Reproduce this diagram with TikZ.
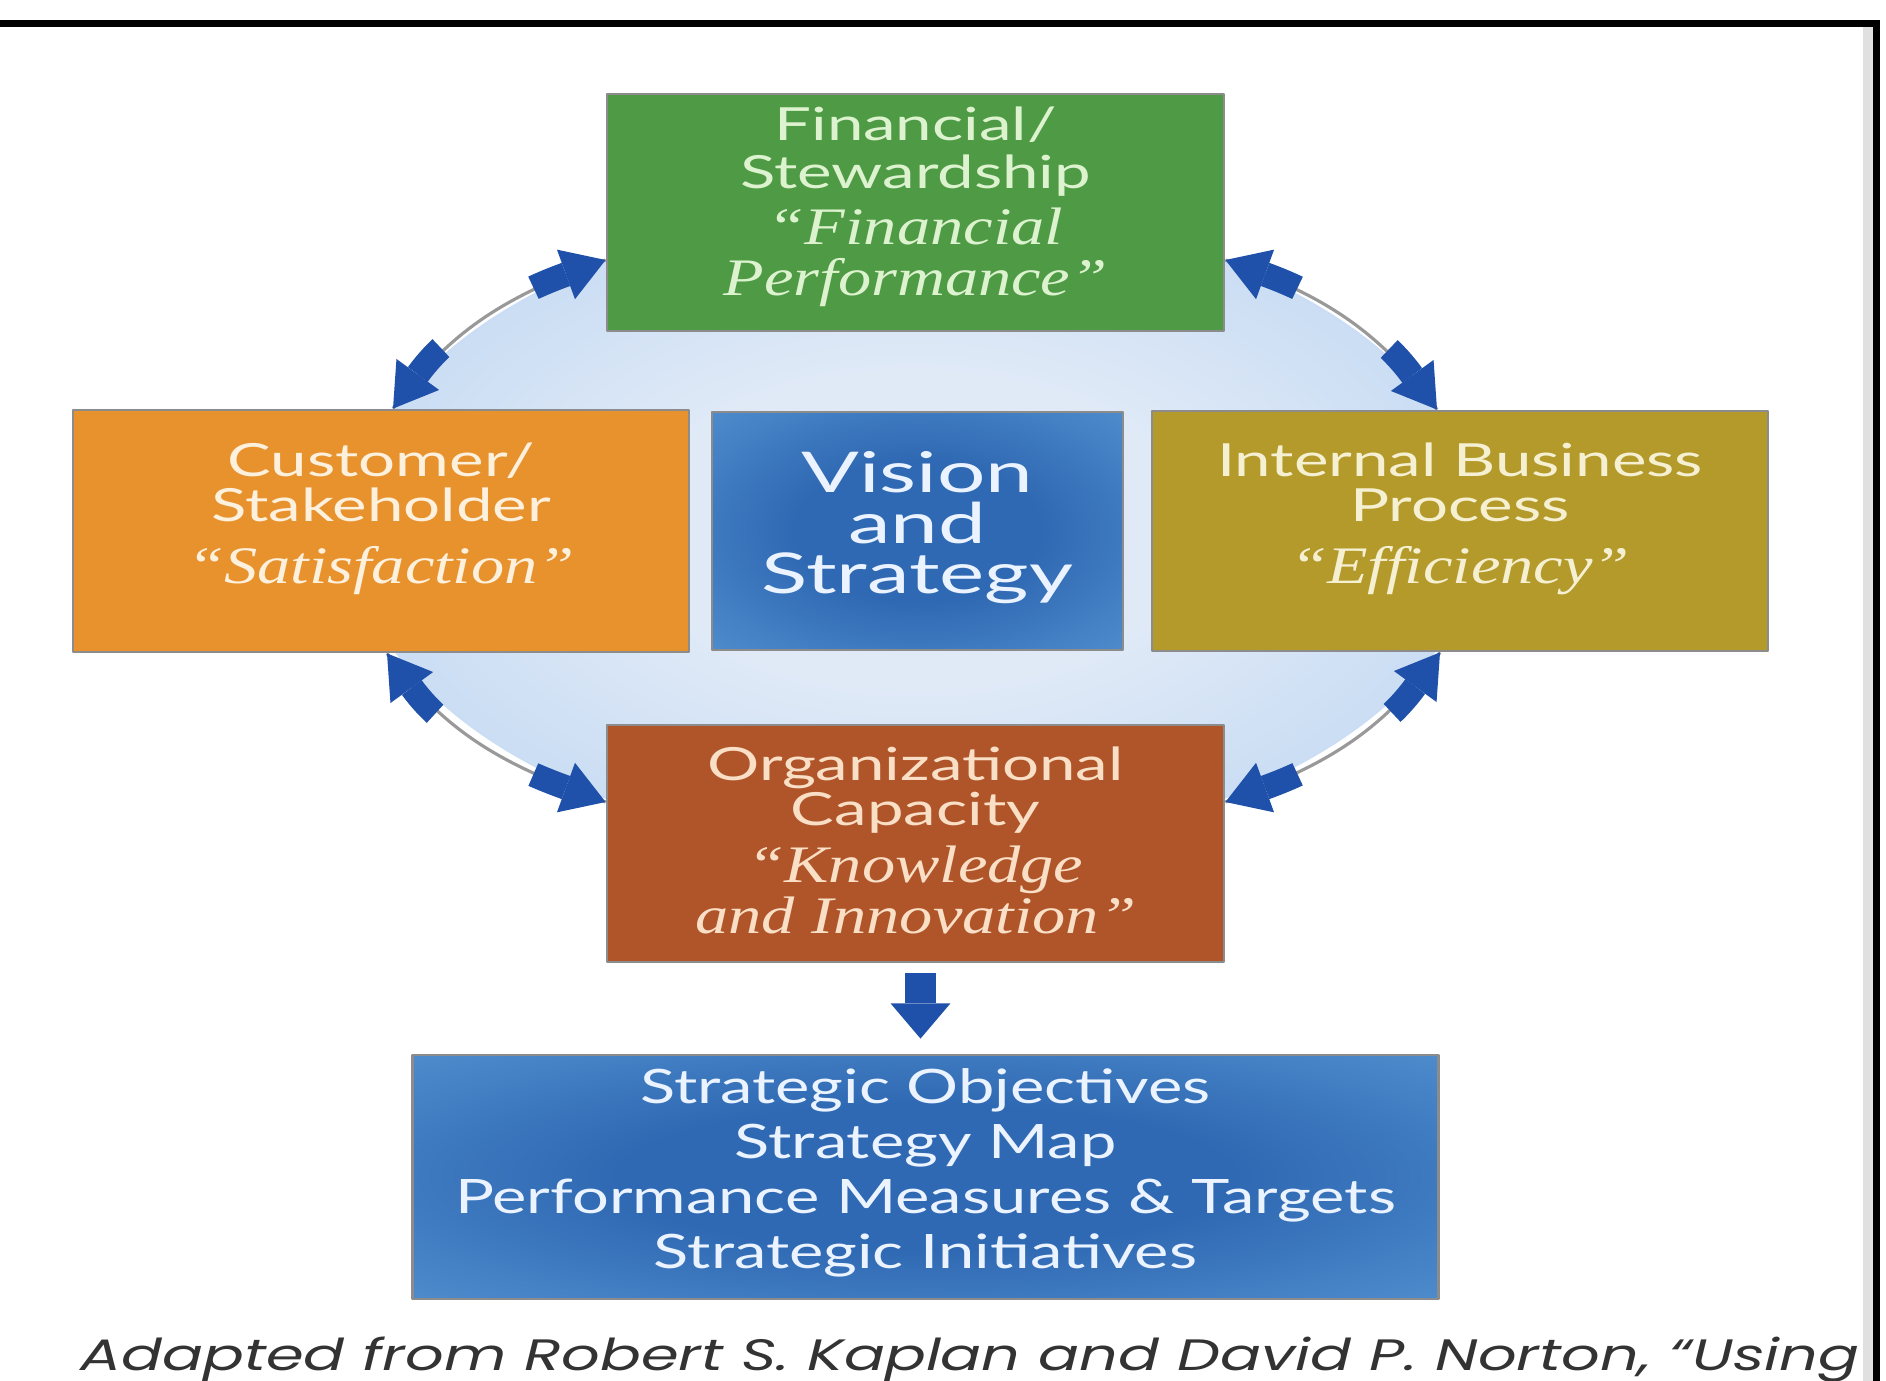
\documentclass[tikz,border=0pt]{standalone}
\usepackage{fontspec}
\setmainfont{Lato}
\newfontfamily\boxsf{Lato}[FakeStretch=1.43]
\newfontfamily\vissf{Lato}[FakeStretch=1.52]
\newfontfamily\stratsf{Lato}[FakeStretch=1.37]
\newfontfamily\boxit{Liberation Serif}[FakeStretch=1.26]
\newfontfamily\capfont{Poppins}[FakeStretch=1.38]
\usetikzlibrary{arrows.meta,backgrounds}
\definecolor{fingreen}{HTML}{4F9B45}
\definecolor{custorange}{HTML}{E8922E}
\definecolor{procolive}{HTML}{B39A2A}
\definecolor{orgbrown}{HTML}{B0552A}
\definecolor{fintext}{HTML}{DDF3CF}
\definecolor{custtext}{HTML}{FDF0DC}
\definecolor{proctext}{HTML}{F6F0D2}
\definecolor{orgtext}{HTML}{F8DFC6}
\definecolor{vistext}{HTML}{EAF3FF}
\definecolor{arrowblue}{HTML}{1F50AA}
\definecolor{ringin}{HTML}{E0EAF7}
\definecolor{ringout}{HTML}{A2C5EE}
\definecolor{visdark}{HTML}{2F69B3}
\definecolor{vislight}{HTML}{64A4DF}
\pgfdeclareradialshading{ringshade}{\pgfpoint{0bp}{0bp}}{color(0bp)=(ringin); color(12bp)=(ringin); color(50bp)=(ringout)}
\pgfdeclareradialshading{boxshade}{\pgfpoint{0bp}{0bp}}{color(0bp)=(visdark); color(15bp)=(visdark); color(50bp)=(vislight)}
\newcommand{\qit}[1]{{\boxit\itshape\fontsize{15}{14}\selectfont #1}}
\begin{document}
\begin{tikzpicture}[line join=round,
  card/.style={draw=black!45,line width=0.8pt,minimum width=6.16cm,minimum height=2.4cm,inner sep=0pt},
  cardtext/.style={align=center,inner sep=0pt,font=\boxsf\fontsize{13}{12.7}\selectfont},
  ring/.style={draw=black!40,line width=0.9pt},
  fattip/.style={draw=arrowblue,line width=7pt,dash pattern=on 10pt off 800pt,{Triangle[length=12pt,width=15pt,line width=0pt]}-},
  drop/.style={draw=arrowblue,line width=9pt,-{Triangle[length=10pt,width=17pt,line width=0pt]},shorten <=1mm,shorten >=1.5mm}]
\useasboundingbox (0,0) rectangle (18.86,-13.81);
\node[card,fill=fingreen,minimum width=6.17cm,minimum height=2.37cm] (fin) at (9.155,-2.125) {};
\node[card,fill=custorange,minimum height=2.42cm] (cust) at (3.81,-5.31) {};
\node[card,shade,shading=boxshade,minimum width=4.11cm,minimum height=2.38cm] (vis) at (9.175,-5.31) {};
\node[card,fill=procolive] (proc) at (14.60,-5.31) {};
\node[card,fill=orgbrown,minimum width=6.17cm,minimum height=2.37cm] (org) at (9.155,-8.435) {};
\node[card,shade,shading=boxshade,minimum width=10.26cm,minimum height=2.44cm] (strat) at (9.255,-11.77) {};
\node[cardtext,text=fintext,font=\boxsf\fontsize{13}{13.7}\selectfont] (fin-txt) at ([yshift=0.6mm]fin) {Financial/\\Stewardship\\[2.4pt]\qit{“Financial}\\[0.7pt]\qit{Performance”}};
\node[cardtext,text=custtext] (cust-txt) at ([yshift=1.2mm]cust) {Customer/\\Stakeholder\\[5pt]\qit{“Satisfaction”}};
\node[cardtext,text=vistext,font=\vissf\fontsize{16}{14.4}\selectfont] (vis-txt) at ([yshift=0.3mm]vis) {Vision\\and\\Strategy};
\node[cardtext,text=proctext] (proc-txt) at ([yshift=1.2mm]proc) {Internal Business\\Process\\[5pt]\qit{“Efficiency”}};
\node[cardtext,text=orgtext] (org-txt) at ([yshift=0.3mm]org) {Organizational\\Capacity\\[3.5pt]\qit{“Knowledge}\\\qit{and Innovation”}};
\node[cardtext,text=vistext,font=\stratsf\fontsize{13.5}{15.6}\selectfont] (strat-txt) at ([yshift=0.4mm]strat) {Strategic Objectives\\Strategy Map\\Performance Measures \& Targets\\Strategic Initiatives};
\node[font=\capfont\itshape\fontsize{12.5}{14}\selectfont,text=black!80] (src) at (9.70,-13.60) {Adapted from Robert S. Kaplan and David P. Norton, “Using};
\coordinate (tl1) at ([yshift=-4.75mm]fin.west);
\coordinate (tl2) at ([xshift=1.2mm]cust.north);
\coordinate (tr1) at ([yshift=-4.75mm]fin.east);
\coordinate (tr2) at ([xshift=-2.3mm]proc.north);
\coordinate (bl1) at ([xshift=0.6mm]cust.south);
\coordinate (bl2) at ([yshift=4.15mm]org.west);
\coordinate (br1) at ([xshift=-2mm]proc.south);
\coordinate (br2) at ([yshift=4.15mm]org.east);
\begin{scope}[on background layer]
\shade[shading=ringshade] (9.15,-5.30) ellipse [x radius=5.62, y radius=3.22];
\foreach \a/\b/\o/\i in {tl1/tl2/200/54,tr1/tr2/-20/126,bl1/bl2/-54/160,br1/br2/234/20}
{
\draw[ring] (\a) to[out=\o,in=\i] (\b);
\draw[fattip] (\a) to[out=\o,in=\i] (\b);
\draw[fattip] (\b) to[out=\i,in=\o] (\a);
}
\end{scope}
\draw[drop] ([xshift=0.5mm]org.south) -- ([xshift=0.5mm]org.south |- strat.north);
\fill[black!12] (18.63,-0.27) rectangle (18.73,-13.81);
\fill (0,-0.20) rectangle (18.80,-0.27);
\fill (18.73,-0.20) rectangle (18.80,-13.81);
\end{tikzpicture}
\end{document}
